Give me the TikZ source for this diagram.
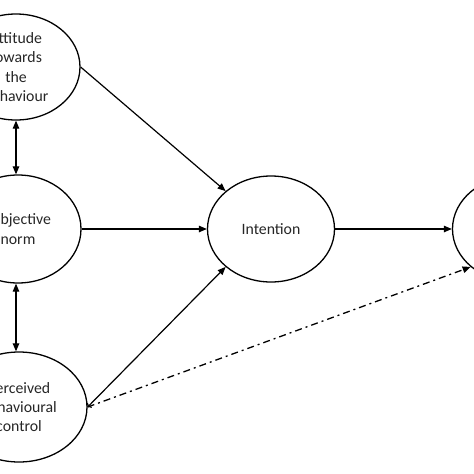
\documentclass[tikz,border=0pt]{standalone}
\usepackage{fontspec}
\setmainfont{Carlito}
\usetikzlibrary{shapes.geometric,arrows.meta}
\begin{document}
\begin{tikzpicture}[x=1pt,y=-1pt,
  construct/.style={draw=black,line width=1.3pt,ellipse,inner sep=0pt,
    minimum width=128pt,minimum height=106pt,align=center,
    font=\fontsize{15.8}{19.3}\selectfont,text=black!85},
  link/.style={line width=1.2pt,-{Triangle[length=8pt,width=6.5pt]}},
  both/.style={line width=1.2pt,{Triangle[length=8pt,width=6.5pt]}-{Triangle[length=8pt,width=6.5pt]}},
  dashdot/.style={line width=1.3pt,dash pattern=on 7pt off 4pt on 2pt off 4pt,-{Triangle[length=8pt,width=6.5pt]}}]
\useasboundingbox (0,0) rectangle (474,474);
\node[construct] (att) at (16,67) {Attitude\\towards\\the\\behaviour};
\node[construct,minimum width=126pt,minimum height=108pt] (sn) at (18,229) {Subjective\\norm};
\node[construct,minimum width=136pt,minimum height=110pt] (pbc) at (19,407) {Perceived\\behavioural\\control};
\node[construct,minimum width=127pt] (int) at (271,229) {Intention};
\node[construct,minimum width=127pt] (beh) at (516,229) {Behaviour};
\draw[link] (att.east) -- (int.north west);
\draw[link] (sn.east) -- (int.west);
\draw[line width=1.2pt,{To[length=3pt,width=7pt]}-{Triangle[length=8pt,width=6.5pt]}] (pbc.east) -- (int.south west);
\draw[link] (int.east) -- (beh.west);
\draw[dashdot] (pbc.east) -- (beh.south west);
\draw[both] (att.south -| 16,0) -- (sn.north -| 16,0);
\draw[both] (sn.south -| 16,0) -- (pbc.north -| 16,0);
\end{tikzpicture}
\end{document}
